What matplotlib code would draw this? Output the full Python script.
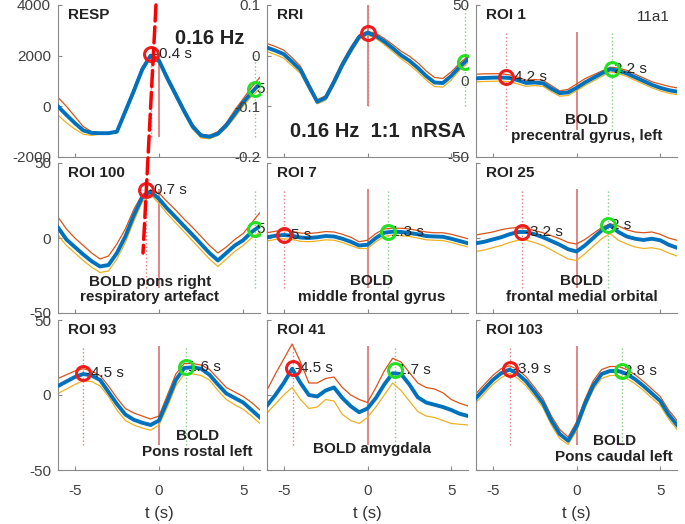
import numpy as np
import matplotlib
matplotlib.use('Agg')
from matplotlib import pyplot as plt
from matplotlib.patches import ConnectionPatch

plt.rcParams['font.family'] = ['Liberation Sans', 'DejaVu Sans']
plt.rcParams['axes.unicode_minus'] = False

# lag axis of the cross-correlation curves (s)
t = np.arange(-6, 6.5, 0.5)

# mean curve (blue) and the two bounds (orange above, yellow below)
resp_mid = [0, -340, -660, -950, -1050, -1060, -1060, -1000, -200, 600, 1450, 2000, 1800,
            1100, 450, -200, -800, -1150, -1200, -1080, -750, -300, 150, 550, 900]
resp_hi = [350, 0, -400, -800, -1000, -1050, -1050, -950, -100, 700, 1550, 2050, 1900,
           1200, 550, -100, -700, -1100, -1150, -1000, -650, -150, 300, 750, 1150]
resp_lo = [-350, -650, -900, -1100, -1150, -1100, -1080, -1050, -300, 500, 1350, 1950, 1700,
           1000, 350, -300, -900, -1250, -1280, -1150, -850, -450, 0, 400, 700]

rri_mid = [0.016, 0.010, 0.003, -0.012, -0.028, -0.060, -0.091, -0.083, -0.052, -0.018, 0.011,
           0.037, 0.045, 0.039, 0.028, 0.015, 0.001, -0.010, -0.024, -0.040, -0.053, -0.054,
           -0.040, -0.022, -0.007]
rri_hi = [0.024, 0.018, 0.011, -0.004, -0.021, -0.054, -0.087, -0.079, -0.046, -0.012, 0.017,
          0.041, 0.048, 0.044, 0.034, 0.022, 0.009, -0.001, -0.014, -0.030, -0.043, -0.045,
          -0.032, -0.015, -0.001]
rri_lo = [0.008, 0.002, -0.005, -0.020, -0.035, -0.066, -0.095, -0.088, -0.058, -0.024, 0.005,
          0.032, 0.041, 0.034, 0.022, 0.008, -0.006, -0.018, -0.032, -0.048, -0.061, -0.062,
          -0.048, -0.029, -0.014]

roi1_mid = [1.8, 2.0, 2.2, 2.3, 2.0, 0.5, -1.3, -1.0, -1.5, -5.0, -8.0, -7.5, -4.5, -1.0, 2.0,
            5.0, 7.8, 6.8, 5.0, 2.5, 0.0, -2.5, -4.5, -6.0, -7.0]
roi1_hi = [4.5, 4.7, 4.8, 4.8, 4.0, 2.5, 0.5, 1.0, 0.5, -3.0, -6.5, -5.5, -2.0, 1.5, 4.0, 6.5,
           9.0, 8.5, 7.0, 4.5, 2.0, -0.5, -2.0, -3.5, -4.5]
roi1_lo = [-0.5, -0.3, -0.2, 0.0, -0.5, -2.0, -3.5, -3.0, -3.5, -7.0, -10.0, -9.5, -6.5, -3.0,
           0.0, 3.0, 6.0, 5.0, 3.0, 0.5, -2.0, -4.5, -6.5, -8.0, -9.0]

roi100_mid = [7, -1, -6, -11, -15.5, -19, -18, -10, 1, 15, 27, 31, 26, 19.5, 13.7, 7.8, 2, -4,
              -10, -15, -10, -5, -1.5, 4, 8]
roi100_hi = [14, 6, 0, -5, -10, -14, -12, -4, 6, 19, 29, 32, 30, 24, 18.5, 12.5, 7, 1, -5, -10,
             -6, -1, 3, 10, 17]
roi100_lo = [2, -5, -10, -15, -19.5, -23, -22, -14, -3, 11, 24, 29, 23, 16, 10, 4, -2, -8, -14,
             -19, -14, -9, -5, 0, 4]

roi7_mid = [0.5, 1.5, 2, 1.5, 0.3, 0, 0.5, 1.3, 1, -0.5, -2.5, -5, -4.5, 0, 3.5, 4.2, 4, 3.3,
            2.5, 1.3, 1, 0.8, -0.5, -2, -3.5]
roi7_hi = [3.5, 4.5, 5, 4.5, 3.3, 3, 3.5, 4.3, 4, 2.5, 0.5, -2.5, -1.5, 3, 6, 6.5, 6.5, 6, 5, 4,
           3.5, 3.5, 2.5, 1, -0.5]
roi7_lo = [-2, -1, -0.5, -1, -2.2, -2.5, -2, -1.2, -1.5, -3, -5, -7, -7, -2.5, 1, 2, 1.5, 1, 0,
           -1.2, -1.5, -1.7, -3, -4.5, -6]

roi25_mid = [-3.5, -2.5, -1, 0.5, 2.5, 4, 4, 2.5, 0.5, -2, -4.5, -7.5, -9, -5, 0, 5, 8.5, 4, 1,
             -0.5, -1.3, -0.5, -1.5, -4.5, -6.5]
roi25_hi = [2, 3, 4, 5.5, 6.5, 7, 6.5, 5, 3.5, 1.5, -0.5, -3, -4, -1, 3, 7, 9.5, 8, 5.5, 4, 3.5,
            4, 2.5, 0, -1.5]
roi25_lo = [-9, -8, -6.5, -5, -3, -1.5, -1.5, -3, -5, -8, -11, -14, -15, -10.5, -5.5, -0.5, 3,
            -1.5, -4, -6, -7, -6.5, -7.5, -10, -12]

roi93_mid = [6, 9, 12, 14, 13, 10, 2, -6, -13, -16.5, -18.5, -20, -17, -4, 10, 18, 18.5, 17.5,
             13.5, 7, 1, -2, -5, -10, -15]
roi93_hi = [11, 13.5, 16, 17.5, 16, 13, 6, -2, -9, -12, -14, -16, -14, 0, 14, 21, 21, 20, 17, 11,
            5, 2, -1, -5, -10]
roi93_lo = [1, 4, 7, 9.5, 9, 6, -1, -10, -17, -20, -22, -23.5, -20, -8, 6, 14, 14, 13, 10, 3,
            -3, -6.5, -9.5, -14, -19]

roi41_mid = [-7, 0, 8, 17.5, 8, 0, -1, 3, 5, -2, -7.5, -11.5, -9, -2, 7, 14.5, 14, 7, -1.5, -5,
             -6.5, -8, -10, -12.5, -14]
roi41_hi = [3.3, 14, 24, 34, 22, 8, 8, 11, 12, 5, 0, -3, -5, 5, 16, 24.5, 22, 15, 8, 5, 4, 1.5,
            -3, -5.5, -7.3]
roi41_lo = [-12, -6, 0, 5, -3, -9, -8, -3, -4, -13, -17, -19, -15, -8, 0, 8, 3, -4, -11, -14, -15,
            -17, -19, -19.5, -20]

roi103_mid = [-2, 4, 10, 14.5, 17, 14, 9, 2, -5.5, -17, -26, -30.5, -21, -6, 6.3, 14, 16, 16, 14,
              10.5, 6, 1, -4, -13, -20]
roi103_hi = [1, 7, 13, 17.5, 19.5, 17, 12, 5, -2.5, -14, -23, -28, -18, -3, 9.5, 17, 19, 19, 17,
             13.5, 9, 4, -1, -10, -17]
roi103_lo = [-5, 1, 7, 11.5, 14.5, 11, 6, -1, -8.5, -20, -29, -33, -24, -9, 3.5, 11, 13, 13, 11,
             7.5, 3, -2, -7, -16, -23]

titles = ['RESP', 'RRI', 'ROI 1', 'ROI 100', 'ROI 7', 'ROI 25', 'ROI 93', 'ROI 41', 'ROI 103']
mids = [resp_mid, rri_mid, roi1_mid, roi100_mid, roi7_mid, roi25_mid, roi93_mid, roi41_mid, roi103_mid]
his = [resp_hi, rri_hi, roi1_hi, roi100_hi, roi7_hi, roi25_hi, roi93_hi, roi41_hi, roi103_hi]
los = [resp_lo, rri_lo, roi1_lo, roi100_lo, roi7_lo, roi25_lo, roi93_lo, roi41_lo, roi103_lo]

ylims = [(-2000, 4000), (-0.2, 0.1)] + [(-50, 50)] * 7
yticks = [[-2000, 0, 2000, 4000], [-0.2, -0.1, 0, 0.1]] + [[-50, 0, 50]] * 7
yticklabels = [['-2000', '0', '2000', '4000'], ['-0.2', '-0.1', '0', '0.1'], ['-50', '0', '50'],
               ['-50', '0', '50'], [], [], ['-50', '0', '50'], [], []]

# extent of the vertical marker lines (data units)
mark_lo = [-1200, -0.1, -32, -33, -33, -33, -33, -33, -33]
mark_hi = [2050, 0.1, 32, 33, 33, 33, 33, 33, 33]

# red (negative lag) and green (positive lag) extrema
red_t = [-0.45, 0.0, -4.2, -0.75, -5.0, -3.25, -4.5, -4.45, -3.95]
red_v = [2050, 0.045, 2.4, 32, 2, 4.2, 14.4, 17.8, 17.1]
red_lab = ['-0.4 s', '', '-4.2 s', '-0.7 s', '-5 s', '-3.2 s', '-4.5 s', '-4.5 s', '-3.9 s']
green_t = [5.7, 5.85, 2.1, 5.7, 1.25, 1.9, 1.6, 1.65, 2.7]
green_v = [700, -0.012, 7.9, 6, 4.2, 8.7, 18.9, 16.7, 16]
green_lab = ['5.7 s', '', '2.2 s', '5.7 s', '1.3 s', '2 s', '1.6 s', '1.7 s', '2.8 s']

notes = ['', '0.16 Hz  1:1  nRSA', 'BOLD\nprecentral gyrus, left', 'BOLD pons right\nrespiratory artefact',
         'BOLD\nmiddle frontal gyrus', 'BOLD\nfrontal medial orbital', 'BOLD\nPons rostal left',
         'BOLD amygdala', 'BOLD\nPons caudal left']
note_xy = [(0, 0), (0.55, 0.165), (0.55, 0.19), (0.455, 0.157), (0.52, 0.16), (0.527, 0.16),
           (0.69, 0.173), (0.52, 0.14), (0.687, 0.14)]

# phase line from RESP peak down into ROI 100
phase_top = (-0.18, 4000)
phase_bot = (-0.95, -10)

W, H = 685, 524
col_left = [58, 267, 476]
col_w = [202, 201, 201]
row_top = [5, 163, 320]
row_bot = [157, 313, 470]

fig = plt.figure(figsize=(W / 100, H / 100), dpi=100)
axes = []
for i in range(9):
    r, c = divmod(i, 3)
    ax = fig.add_axes([col_left[c] / W, 1 - row_bot[r] / H, col_w[c] / W,
                       (row_bot[r] - row_top[r]) / H])
    axes.append(ax)

    ax.vlines(0, mark_lo[i], mark_hi[i], color='#e07070', lw=1.2, zorder=1)
    ax.vlines(red_t[i], mark_lo[i], mark_hi[i], color='#e08080', lw=1, ls=':', zorder=1)
    ax.vlines(green_t[i], mark_lo[i], mark_hi[i], color='#80d080', lw=1, ls=':', zorder=1)

    ax.plot(t, his[i], color='#D95319', lw=0.9, zorder=2)
    ax.plot(t, los[i], color='#EDB120', lw=0.9, zorder=2)
    ax.plot(t, mids[i], color='#0072BD', lw=2.8, zorder=3)

    ax.plot(red_t[i], red_v[i], 'o', ms=10, mfc='none', mec='#ee1c1c', mew=2.2, zorder=5)
    ax.plot(green_t[i], green_v[i], 'o', ms=10, mfc='none', mec='#22e022', mew=2.2, zorder=5)
    if red_lab[i]:
        ax.text(red_t[i] + 0.15, red_v[i], red_lab[i], fontsize=11, color='#262626',
                va='center', ha='left', zorder=4)
    if green_lab[i]:
        ax.text(green_t[i] + 0.15, green_v[i], green_lab[i], fontsize=11, color='#262626',
                va='center', ha='left', zorder=4)

    ax.text(0.05, 0.935, titles[i], transform=ax.transAxes, fontsize=11, fontweight='bold',
            color='#222222', va='center', ha='left')
    if notes[i]:
        fs = 14.5 if i == 1 else 11
        ax.text(note_xy[i][0], note_xy[i][1], notes[i], transform=ax.transAxes, fontsize=fs,
                fontweight='bold', color='#222222', ha='center', va='center', linespacing=1.15)

    ax.set_xlim(-6, 6)
    ax.set_ylim(*ylims[i])
    ax.set_xticks([-5, 0, 5])
    ax.set_yticks(yticks[i])
    if yticklabels[i]:
        ax.set_yticklabels(yticklabels[i])
    else:
        ax.set_yticklabels([])
    if r == 2:
        ax.set_xticklabels(['-5', '0', '5'])
        ax.set_xlabel('t (s)', fontsize=12, color='#333333', labelpad=6)
    else:
        ax.set_xticklabels([])

    for s in ['top', 'right']:
        ax.spines[s].set_visible(False)
    for s in ['left', 'bottom']:
        ax.spines[s].set_color('#8a8a8a')
    ax.tick_params(direction='in', length=3, color='#8a8a8a', labelcolor='#404040', labelsize=11)
    ax.tick_params(axis='x', pad=10)
    ax.tick_params(axis='y', pad=5)

axes[0].text(0.75, 0.78, '0.16 Hz', transform=axes[0].transAxes, fontsize=14.5,
             fontweight='bold', color='#222222', ha='center', va='center', zorder=6)
axes[2].text(0.88, 0.92, '11a1', transform=axes[2].transAxes, fontsize=11,
             color='#333333', ha='center', va='center')

con = ConnectionPatch(xyA=phase_top, coordsA=axes[0].transData,
                      xyB=phase_bot, coordsB=axes[3].transData,
                      color='red', lw=2.5, linestyle=(0, (4.6, 1.7)))
fig.add_artist(con)

plt.savefig('out.png', dpi=100)
